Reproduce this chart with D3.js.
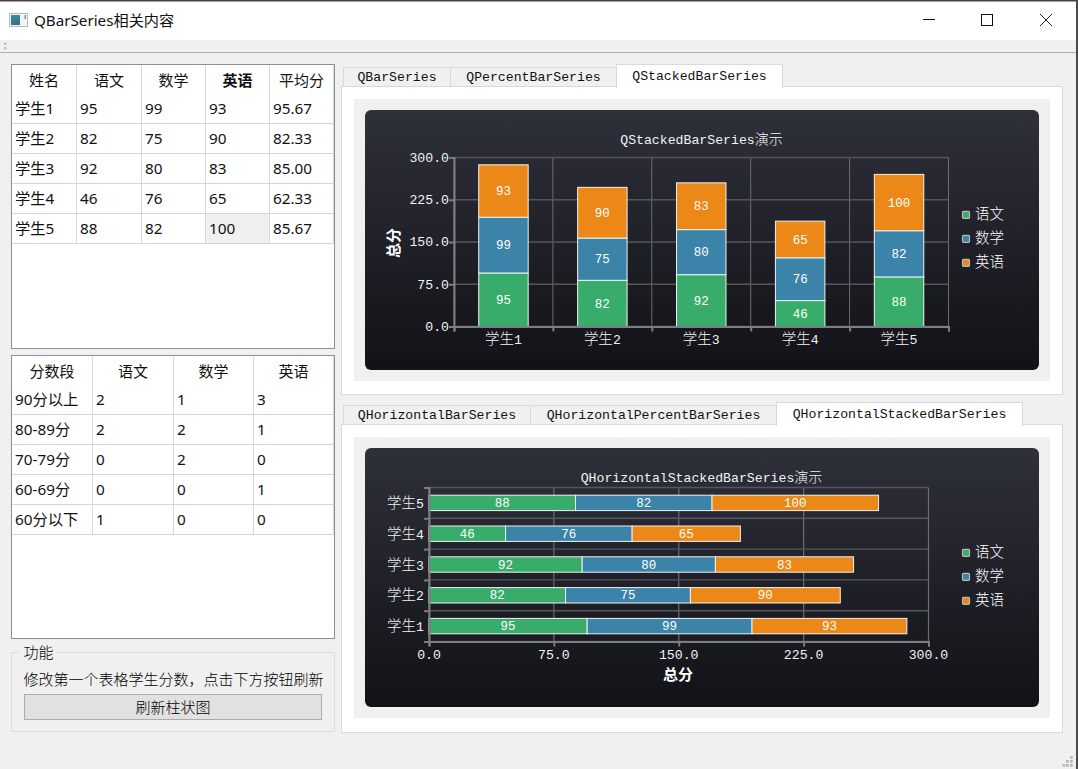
<!DOCTYPE html>
<html><head><meta charset="utf-8">
<script src="https://cdn.jsdelivr.net/npm/d3@7/dist/d3.min.js"></script>
<style>html,body{margin:0;padding:0;background:#f0f0f0;overflow:hidden}svg{display:block}</style>
</head><body><svg id="c" width="1078" height="769"></svg>
<script>
// ---- data ----
const students = ["学生1","学生2","学生3","学生4","学生5"];
const subjects = ["语文","数学","英语"];
const chinese = [95,82,92,46,88];
const maths = [99,75,80,76,82];
const english = [93,90,83,65,100];
const averages = ["95.67","82.33","85.00","62.33","85.67"];
const scoreHeader = ["姓名","语文","数学","英语","平均分"];
const bandHeader = ["分数段","语文","数学","英语"];
const bands = ["90分以上","80-89分","70-79分","60-69分","60分以下"];
const bandChinese = [2,2,0,0,1];
const bandMaths = [1,2,2,0,0];
const bandEnglish = [3,1,0,1,0];
const axisTicks = [0,75,150,225,300];
const seriesColors = ["#38ad6b","#3b83a8","#ec8817"];
const seriesValues = [chinese,maths,english];

const svg = d3.select("#c");
const defs = svg.append("defs");
const grad = defs.append("linearGradient").attr("id","dark").attr("x1",0).attr("x2",0).attr("y1",0).attr("y2",1);
grad.append("stop").attr("offset",0).attr("stop-color","#2e303a");
grad.append("stop").attr("offset",1).attr("stop-color","#121217");
const iconGrad = defs.append("linearGradient").attr("id","icon").attr("x1",0).attr("x2",0).attr("y1",0).attr("y2",1);
iconGrad.append("stop").attr("offset",0).attr("stop-color","#3f8f86");
iconGrad.append("stop").attr("offset",1).attr("stop-color","#2f6f8f");

const UI = "'Noto Sans','Noto Sans CJK SC',sans-serif";
const CJK = "'Noto Sans CJK SC',sans-serif";
const MONO = "'Liberation Mono',monospace";

// song-style text: latin runs in a monospace face, CJK runs at their own size
function song(g,x,y,str,size,opt={}){
  const t = g.append("text").attr("x",x).attr("y",y).attr("fill",opt.fill||"#000")
    .attr("text-anchor",opt.anchor||"start").attr("font-weight",opt.weight||300);
  if(opt.rotate) t.attr("transform",`rotate(${opt.rotate} ${x} ${y})`);
  const runs = str.match(/[\x00-\x7f]+|[^\x00-\x7f]+/g);
  runs.forEach(r=>{
    const latin = /^[\x00-\x7f]/.test(r);
    t.append("tspan").text(r).attr("font-family",latin?MONO:CJK)
      .attr("font-size",latin?(opt.latin||13.2):size)
      .style("font-weight",latin?400:(opt.weight||300));
  });
  return t;
}
function rect(g,x,y,w,h,fill,stroke,sw){
  return g.append("rect").attr("x",x).attr("y",y).attr("width",w).attr("height",h)
    .attr("fill",fill||"none").attr("stroke",stroke||"none").attr("stroke-width",sw||1);
}
function line(g,x1,y1,x2,y2,stroke,sw){
  return g.append("line").attr("x1",x1).attr("y1",y1).attr("x2",x2).attr("y2",y2)
    .attr("stroke",stroke).attr("stroke-width",sw||1);
}

// ---- window chrome ----
rect(svg,0,0,1078,769,"#f0f0f0");
rect(svg,0,0,1078,40,"#ffffff");
rect(svg,0,0,1078,1.5,"#45443e");
rect(svg,1076,0,2,769,"#4a4a46");
line(svg,0,52.5,1076,52.5,"#b0b0b0");
[42.5,47].forEach(y=>rect(svg,4,y,2.5,2.5,"#c0c0c0"));
// icon
rect(svg,9.5,13.5,18,13,"#f2f4f4","#b3b8ba");
rect(svg,11,15,9,10,"url(#icon)");
rect(svg,24.5,15,1.5,4,"#6f9aa0");
svg.append("text").attr("x",34).attr("y",26).attr("font-family",UI).attr("font-size",15.2).attr("fill","#111").text("QBarSeries相关内容");
// controls
line(svg,923,19.5,935,19.5,"#111");
rect(svg,981.5,14.5,11,11,"none","#111");
line(svg,1040,14,1052,26,"#222"); line(svg,1052,14,1040,26,"#222");
// size grip
[[1070,756],[1066,760],[1070,760],[1062.5,764],[1066,764],[1070,764]].forEach(p=>rect(svg,p[0],p[1],2.7,2.7,"#b8b8b8"));

// ---- tables ----
function table(box,cols,rows,header,cells,boldCol,shade){
  const g = svg.append("g");
  rect(g,box[0],box[1],box[2]-box[0],box[3]-box[1],"#fff","#8a9098");
  if(shade) rect(g,cols[shade.c],rows[shade.r],cols[shade.c+1]-cols[shade.c],rows[shade.r+1]-rows[shade.r],"#f0f0f0");
  cols.slice(1).forEach(x=>line(g,x,box[1]+1,x,rows[rows.length-1],"#d8d8d8"));
  rows.slice(1).forEach(y=>line(g,box[0]+1,y,cols[cols.length-1],y,"#d4d4d4"));
  header.forEach((h,i)=>{
    g.append("text").attr("x",(cols[i]+cols[i+1])/2).attr("y",box[1]+21).attr("text-anchor","middle")
      .attr("font-family",UI).attr("font-size",15).attr("font-weight",i===boldCol?700:400).attr("fill","#111").text(h);
  });
  cells.forEach((row,r)=>row.forEach((v,c)=>{
    g.append("text").attr("x",cols[c]+3.5).attr("y",(rows[r]+rows[r+1])/2+5.5)
      .attr("font-family",UI).attr("font-size",15.3).attr("fill","#111").text(v);
  }));
}
table([11.5,64.5,334.5,348.5],[11.5,76.5,141.5,205.5,269.5,333.5],[93.5,123.5,153.5,183.5,213.5,243.5],
  scoreHeader, students.map((s,i)=>[s,chinese[i],maths[i],english[i],averages[i]]),3,{c:3,r:4});
table([11.5,355.5,334.5,638.5],[11.5,92.5,173.5,253.5,333.5],[384.5,414.5,444.5,474.5,504.5,534.5],
  bandHeader, bands.map((s,i)=>[s,bandChinese[i],bandMaths[i],bandEnglish[i]]),-1,null);

// ---- group box ----
rect(svg,11.5,652.5,323,79,"none","#dcdcdc");
rect(svg,19,645,38,14,"#f0f0f0");
song(svg,23.5,658,"功能",15);
song(svg,23.5,684.5,"修改第一个表格学生分数，点击下方按钮刷新",15);
rect(svg,24.5,694.5,297,25,"#e1e1e1","#adadad");
song(svg,173,712.5,"刷新柱状图",15,{anchor:"middle"});

// ---- tabs ----
function tabs(panelTop,panelBottom,items){
  const g = svg.append("g");
  rect(g,341.5,panelTop,721,panelBottom-panelTop,"#fff","#d9d9d9");
  items.forEach(t=>{
    rect(g,t.x0+.5,t.active?panelTop-22:panelTop-19,t.x1-t.x0,t.active?23:19,t.active?"#fff":"#f0f0f0","#d9d9d9");
    if(t.active) rect(g,t.x0+1,panelTop-1,t.x1-t.x0-1,3,"#fff");
    song(g,(t.x0+t.x1)/2+.5,panelTop-(t.active?6.2:5.2),t.label,14,{anchor:"middle",fill:"#111"});
  });
}
tabs(86.5,394.5,[{x0:343,x1:450,label:"QBarSeries"},{x0:450,x1:616,label:"QPercentBarSeries"},{x0:616,x1:782,label:"QStackedBarSeries",active:true}]);
tabs(424.5,732.5,[{x0:343,x1:530,label:"QHorizontalBarSeries"},{x0:530,x1:776,label:"QHorizontalPercentBarSeries"},{x0:776,x1:1022,label:"QHorizontalStackedBarSeries",active:true}]);

// ---- charts ----
function shell(top,bottom,darkTop,darkBottom,title,titleX,titleY){
  rect(svg,354,top,696,bottom-top,"#f0f0f0");
  const g = svg.append("g");
  g.append("rect").attr("x",365).attr("y",darkTop).attr("width",674).attr("height",darkBottom-darkTop)
    .attr("rx",6).attr("fill","url(#dark)");
  song(g,titleX,titleY,title,14,{anchor:"middle",fill:"#f2f2f2"});
  return g;
}
function legend(g,topY){
  subjects.forEach((s,i)=>{
    const y = topY+i*24;
    g.append("rect").attr("x",962.5).attr("y",y-2.7).attr("width",7).attr("height",7).attr("rx",1)
      .attr("fill",seriesColors[i]).attr("stroke","#b9b9b9").attr("stroke-width",1.2);
    song(g,975,y+5,s,14.5,{fill:"#fff"});
  });
}
function styleAxis(a){
  a.select(".domain").attr("stroke","#7d7e84").attr("stroke-width",2);
  a.selectAll(".tick line").attr("stroke","#7d7e84").attr("stroke-width",2);
  a.selectAll(".tick text").remove();
}
const fmt = d3.format(".1f");
const stack = students.map((s,i)=>{let acc=0;return seriesValues.map((v,k)=>{const r={k,i,v:v[i],a:acc,b:acc+v[i]};acc+=v[i];return r;});}).flat();

// vertical
{
  const g = shell(99,381,110,370,"QStackedBarSeries演示",701.5,144);
  const plot = {l:454,r:948.5,t:157.5,b:326.5};
  const x = d3.scaleBand().domain(students).range([plot.l,plot.r]);
  const y = d3.scaleLinear().domain([0,300]).range([plot.b,plot.t]);
  const edges = d3.range(students.length+1).map(i=>plot.l+i*x.step());
  edges.forEach(e=>line(g,e,plot.t,e,plot.b,"#6c6d73",1));
  axisTicks.forEach(t=>line(g,plot.l,y(t),plot.r,y(t),"#55565c",1.4));
  const bw = x.bandwidth()*0.5;
  g.selectAll(".seg").data(stack).join("rect").attr("class","seg")
    .attr("x",d=>x(students[d.i])+x.bandwidth()/2-bw/2).attr("width",bw)
    .attr("y",d=>y(d.b)).attr("height",d=>y(d.a)-y(d.b))
    .attr("fill",d=>seriesColors[d.k]).attr("stroke","#f2f2f2").attr("stroke-width",1);
  stack.forEach(d=>song(g,x(students[d.i])+x.bandwidth()/2,(y(d.a)+y(d.b))/2+4.1,String(d.v),14,{anchor:"middle",fill:"#fff",latin:12.5}));
  const ax = g.append("g").attr("transform",`translate(0,${plot.b})`)
    .call(d3.axisBottom(d3.scaleLinear().domain([0,5]).range([plot.l,plot.r])).ticks(5).tickSize(5).tickFormat(""));
  styleAxis(ax);
  const ay = g.append("g").attr("transform",`translate(${plot.l},0)`)
    .call(d3.axisLeft(y).tickValues(axisTicks).tickSize(5).tickFormat(""));
  styleAxis(ay);
  axisTicks.forEach(t=>song(g,449,y(t)+4.3,fmt(t),16,{anchor:"end",fill:"#f2f2f2"}));
  students.forEach(s=>song(g,x(s)+x.bandwidth()/2,344,s,14.5,{anchor:"middle",fill:"#f2f2f2"}));
  song(g,399,243,"总分",15,{anchor:"middle",fill:"#fff",weight:700,rotate:-90});
  legend(g,214);
}
// horizontal
{
  const g = shell(437,718,448,707,"QHorizontalStackedBarSeries演示",701.5,482);
  const plot = {l:429,r:928.5,t:487.5,b:641.5};
  const y = d3.scaleBand().domain(students).range([plot.b,plot.t]);
  const x = d3.scaleLinear().domain([0,300]).range([plot.l,plot.r]);
  axisTicks.forEach(t=>line(g,x(t),plot.t,x(t),plot.b,"#6c6d73",1.2));
  d3.range(students.length+1).forEach(i=>{const p=plot.b-i*y.step();line(g,plot.l,p,plot.r,p,"#55565c",1.4);});
  const bh = y.bandwidth()*0.5;
  g.selectAll(".seg").data(stack).join("rect").attr("class","seg")
    .attr("y",d=>y(students[d.i])+y.bandwidth()/2-bh/2).attr("height",bh)
    .attr("x",d=>x(d.a)).attr("width",d=>x(d.b)-x(d.a))
    .attr("fill",d=>seriesColors[d.k]).attr("stroke","#f2f2f2").attr("stroke-width",1);
  stack.forEach(d=>song(g,(x(d.a)+x(d.b))/2,y(students[d.i])+y.bandwidth()/2+4,String(d.v),14,{anchor:"middle",fill:"#fff",latin:12.5}));
  const ax = g.append("g").attr("transform",`translate(0,${plot.b})`)
    .call(d3.axisBottom(x).tickValues(axisTicks).tickSize(5).tickFormat(""));
  styleAxis(ax);
  const ay = g.append("g").attr("transform",`translate(${plot.l},0)`)
    .call(d3.axisLeft(d3.scaleLinear().domain([0,5]).range([plot.b,plot.t])).ticks(5).tickSize(5).tickFormat(""));
  styleAxis(ay);
  axisTicks.forEach(t=>song(g,x(t),659.3,fmt(t),16,{anchor:"middle",fill:"#f2f2f2"}));
  students.forEach(s=>song(g,424,y(s)+y.bandwidth()/2+5,s,14.5,{anchor:"end",fill:"#f2f2f2"}));
  song(g,678,680,"总分",15,{anchor:"middle",fill:"#fff",weight:700});
  legend(g,552);
}
</script></body></html>
